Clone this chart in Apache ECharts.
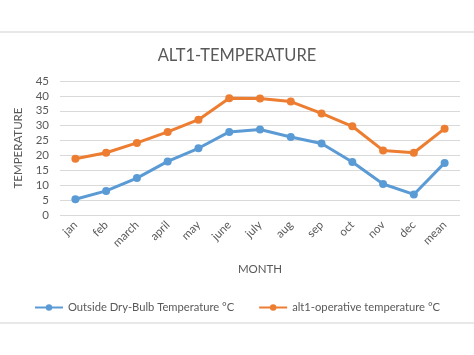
<!DOCTYPE html>
<html><head><meta charset="utf-8">
<script src="https://cdn.jsdelivr.net/npm/echarts@6/dist/echarts.min.js"></script>
<style>html,body{margin:0;padding:0;background:#fff}#c{width:474px;height:355px}</style>
</head><body><div id="c"></div>
<script>
const categories = ['jan','feb','march','april','may','june','july','aug','sep','oct','nov','dec','mean'];
const outsideTemp = [5.3, 8.1, 12.4, 18.0, 22.4, 27.9, 28.7, 26.2, 24.0, 17.8, 10.4, 6.9, 17.5];
const operativeTemp = [18.9, 20.9, 24.2, 27.9, 32.0, 39.2, 39.1, 38.1, 34.1, 29.8, 21.7, 20.9, 29.0];
const seriesNames = ['Outside Dry-Bulb Temperature °C', 'alt1-operative temperature °C'];
const font = 'Lato';
const chart = echarts.init(document.getElementById('c'));
chart.setOption({
  animation: false,
  backgroundColor: '#fff',
  title: { text: 'ALT1-TEMPERATURE', left: 'center', top: 42, textStyle: { fontFamily: font, fontSize: 16.5, fontWeight: 'normal', color: '#595959' } },
  graphic: [
    { type: 'line', shape: { x1: 0, y1: 32, x2: 474, y2: 32 }, style: { stroke: '#e0e0e0', lineWidth: 1.5 } },
    { type: 'line', shape: { x1: 0, y1: 323, x2: 474, y2: 323 }, style: { stroke: '#e0e0e0', lineWidth: 1.5 } }
  ],
  legend: {
    bottom: 44, left: 'center', itemGap: 24, itemWidth: 28, itemHeight: 8,
    top: 297,
    textStyle: { fontFamily: font, fontSize: 11.2, color: '#595959' },
    data: seriesNames
  },
  grid: { left: 60, right: 14, top: 81, bottom: 140 },
  xAxis: {
    type: 'category', data: categories, boundaryGap: true,
    name: 'MONTH', nameLocation: 'middle', nameGap: 48,
    nameTextStyle: { fontFamily: font, fontSize: 11.5, color: '#595959' },
    axisLine: { show: false }, axisTick: { show: false },
    axisLabel: { rotate: 45, fontFamily: font, fontSize: 11.5, color: '#595959', margin: 8, interval: 0 }
  },
  yAxis: {
    type: 'value', min: 0, max: 45, interval: 5,
    name: 'TEMPERATURE', nameLocation: 'middle', nameGap: 29,
    nameTextStyle: { fontFamily: font, fontSize: 11.5, color: '#595959' },
    axisLine: { show: false }, axisTick: { show: false },
    axisLabel: { fontFamily: font, fontSize: 11.5, color: '#595959', margin: 11 },
    splitLine: { lineStyle: { color: '#d9d9d9', width: 1 } }
  },
  series: [
    { name: seriesNames[0], type: 'line', data: outsideTemp, color: '#5B9BD5', symbol: 'circle', symbolSize: 8, lineStyle: { width: 3 } },
    { name: seriesNames[1], type: 'line', data: operativeTemp, color: '#ED7D31', symbol: 'circle', symbolSize: 8, lineStyle: { width: 3 } }
  ]
});
</script></body></html>
